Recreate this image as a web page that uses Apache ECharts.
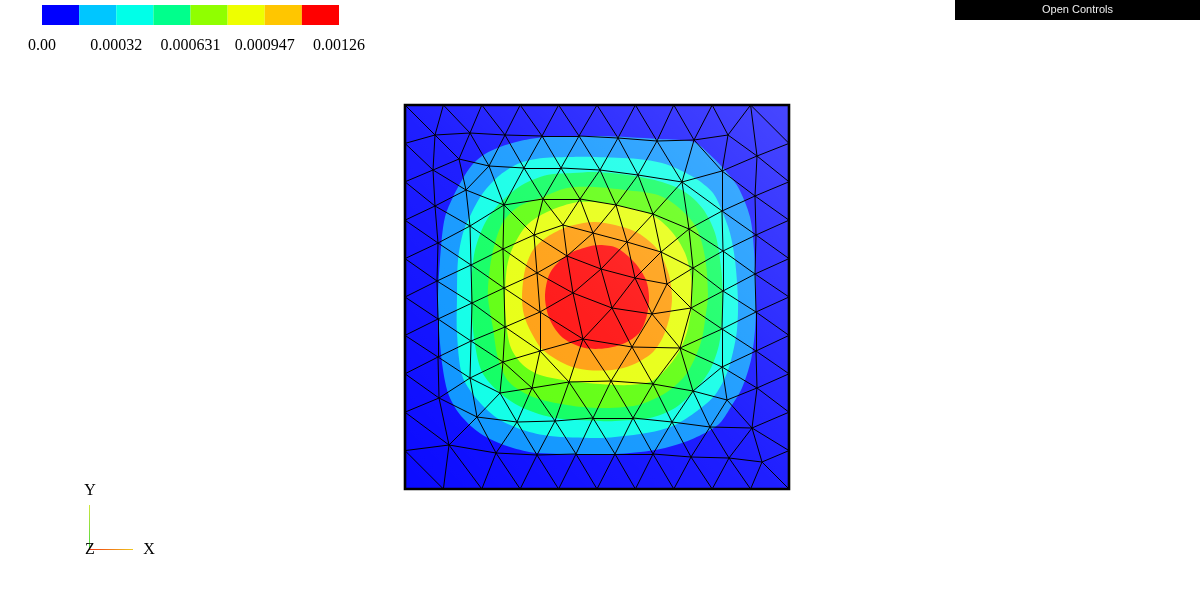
<!DOCTYPE html>
<html>
<head>
<meta charset="utf-8">
<style>
  html, body { margin: 0; padding: 0; background: #fff; }
  #chart { width: 1200px; height: 600px; }
</style>
<script src="https://cdn.jsdelivr.net/npm/echarts@6/dist/echarts.min.js"></script>
</head>
<body>
<div id="chart"></div>
<script>
// colour bar
const barColors = ['#0000ff', '#00c6ff', '#00ffe8', '#00ff8c', '#90ff00', '#eeff00', '#ffc600', '#ff0000'];
const barTickAt = [0, 2, 4, 6, 8];
const barTickLabels = ['0.00', '0.00032', '0.000631', '0.000947', '0.00126'];

// the square domain, mesh units, y runs downwards
const sideStops = [0, 38.4, 76.8, 115.2, 153.6, 192, 230.4, 268.8, 307.2, 345.6, 384];

// inner mesh nodes
const innerNodes = [
  [30, 30], [65, 28], [100, 30], [137, 31], [174, 31], [213, 33], [252, 36], [289, 35], [323, 30],
  [28, 65], [54, 54], [84, 61], [119, 63], [156, 63], [195, 65], [233, 70], [277, 77], [317, 66], [352, 51],
  [30, 101], [61, 85], [99, 100], [138, 94], [175, 94], [211, 100], [248, 109], [284, 124], [317, 106], [350, 91],
  [33, 138], [65, 121], [98, 144], [129, 130], [158, 120], [188, 128], [222, 137], [256, 147], [288, 163], [318, 146], [351, 130],
  [32, 176], [66, 160], [99, 183], [132, 168], [162, 151], [196, 164], [230, 173], [262, 179], [318, 186], [350, 169],
  [33, 214], [67, 198], [100, 222], [135, 207], [168, 188], [207, 203], [247, 209], [286, 203], [317, 224], [351, 207],
  [33, 252], [66, 236], [98, 257], [135, 246], [178, 234], [227, 242], [275, 243], [317, 262], [351, 246],
  [34, 293], [65, 273], [95, 288], [127, 283], [164, 277], [206, 276], [248, 279], [288, 286], [322, 295], [352, 283],
  [72, 312], [112, 317], [150, 316], [188, 313], [228, 313], [267, 317], [305, 322], [347, 323],
  [44, 340], [91, 348], [132, 350], [171, 349], [210, 349], [248, 349], [286, 352], [324, 353], [357, 357]
];

// contour outlines, lowest level first
const contourLightBlue = [
  [33, 192], [36, 142], [40, 112], [48, 92], [57, 75], [67, 60], [80, 49], [95, 42], [115, 36], [142, 32], [195, 31],
  [253, 34], [289, 37], [303, 48], [318, 63], [333, 82], [345, 112], [349, 145], [351, 190],
  [350, 225], [346, 255], [337, 283], [327, 300], [315, 318], [300, 328], [277, 338], [250, 345], [210, 349],
  [132, 348], [105, 342], [83, 333], [67, 322], [53, 307], [43, 288], [37, 258], [34, 223]
];
const contourCyan = [
  [52, 192], [53, 155], [58, 128], [67, 107], [78, 88], [95, 70], [115, 58], [138, 53], [168, 52], [190, 52],
  [233, 54], [257, 58], [277, 66], [293, 75], [308, 88], [317, 106], [325, 128], [330, 155], [333, 195],
  [332, 225], [328, 247], [322, 268], [310, 290], [292, 306], [270, 320], [247, 327], [210, 332], [190, 333],
  [145, 331], [118, 325], [92, 313], [70, 292], [57, 270], [52, 228]
];
const contourGreen = [
  [66, 192], [67, 168], [70, 145], [80, 118], [95, 98], [117, 80], [142, 70], [168, 68], [190, 67],
  [223, 70], [257, 77], [280, 87], [298, 104], [310, 128], [316, 162], [318, 195],
  [317, 215], [314, 240], [305, 265], [290, 285], [270, 303], [245, 313], [210, 316], [195, 316],
  [150, 313], [118, 303], [95, 288], [77, 267], [69, 233]
];
const contourLime = [
  [83, 192], [85, 162], [90, 138], [98, 117], [113, 102], [138, 92], [162, 83], [190, 82],
  [220, 85], [253, 90], [273, 102], [291, 122], [300, 152], [303, 190],
  [301, 208], [296, 237], [282, 268], [262, 287], [233, 300], [195, 303],
  [162, 300], [128, 292], [104, 277], [93, 253], [88, 223]
];
const contourYellow = [
  [100, 192], [102, 162], [108, 142], [122, 120], [142, 107], [168, 98], [190, 97],
  [211, 100], [247, 110], [267, 127], [280, 148], [286, 172], [287, 195],
  [283, 223], [275, 245], [262, 263], [247, 276], [225, 280], [195, 279],
  [165, 276], [135, 270], [118, 260], [106, 243], [101, 217]
];
const contourOrange = [
  [117, 192], [120, 165], [128, 145], [142, 132], [162, 122], [188, 117],
  [210, 120], [233, 128], [253, 145], [264, 170], [267, 192],
  [265, 210], [258, 232], [247, 248], [227, 260], [207, 265], [182, 265],
  [162, 260], [138, 245], [126, 227], [119, 210]
];
const contourRed = [
  [140, 192], [145, 168], [162, 150], [182, 142], [195, 140],
  [212, 143], [230, 158], [241, 175], [244, 192],
  [242, 210], [235, 227], [222, 237], [203, 243], [180, 243],
  [158, 233], [145, 215]
];
const contours = [contourLightBlue, contourCyan, contourGreen, contourLime, contourYellow, contourOrange, contourRed];
const bandColors = ['#0090ff', '#00ffe6', '#00ff58', '#55ff00', '#e6ff00', '#ff9800', '#ff0000'];
const baseColor = '#0000ff';

const boundaryNodes = [];
sideStops.forEach(s => {
  boundaryNodes.push([s, 0], [s, 384]);
  if (s > 0 && s < 384) boundaryNodes.push([0, s], [384, s]);
});
const meshNodes = boundaryNodes.concat(innerNodes);

// the mesh is near Delaunay, so connect the nodes that way (Bowyer-Watson)
function triangulate(pts) {
  const all = pts.concat([[-1e5, -1e5], [1e5, -1e5], [0, 1e5]]);
  const n = pts.length;
  let tris = [[n, n + 1, n + 2]];
  const inCircle = (t, p) => {
    const [a, b, c] = t.map(i => all[i]);
    const ax = a[0] - p[0], ay = a[1] - p[1];
    const bx = b[0] - p[0], by = b[1] - p[1];
    const cx = c[0] - p[0], cy = c[1] - p[1];
    const det = (ax * ax + ay * ay) * (bx * cy - cx * by)
      - (bx * bx + by * by) * (ax * cy - cx * ay)
      + (cx * cx + cy * cy) * (ax * by - bx * ay);
    const orient = (b[0] - a[0]) * (c[1] - a[1]) - (b[1] - a[1]) * (c[0] - a[0]);
    return orient > 0 ? det > 0 : det < 0;
  };
  pts.forEach((p, i) => {
    const bad = [], keep = [];
    tris.forEach(t => (inCircle(t, p) ? bad : keep).push(t));
    const count = {};
    bad.forEach(t => {
      [[t[0], t[1]], [t[1], t[2]], [t[2], t[0]]].forEach(e => {
        const k = Math.min(e[0], e[1]) + '_' + Math.max(e[0], e[1]);
        count[k] = (count[k] || 0) + 1;
      });
    });
    Object.keys(count).forEach(k => {
      if (count[k] === 1) {
        const e = k.split('_').map(Number);
        keep.push([e[0], e[1], i]);
      }
    });
    tris = keep;
  });
  return tris.filter(t => t.every(i => i < n));
}

const edgeKeys = {};
triangulate(meshNodes).forEach(t => {
  [[t[0], t[1]], [t[1], t[2]], [t[2], t[0]]].forEach(e => {
    edgeKeys[Math.min(e[0], e[1]) + '_' + Math.max(e[0], e[1])] = e;
  });
});
const meshEdges = Object.values(edgeKeys).map(e => ({ coords: [meshNodes[e[0]], meshNodes[e[1]]] }));

const square = [[0, 0], [384, 0], [384, 384], [0, 384]];

function polygonItem(api, points, style, smooth) {
  return {
    type: 'polygon',
    shape: { points: points.map(p => api.coord(p)), smooth: smooth || 0 },
    style: style
  };
}

const chart = echarts.init(document.getElementById('chart'), null, { renderer: 'canvas' });
const serif = 'Liberation Serif';

chart.setOption({
  animation: false,
  backgroundColor: '#fff',
  grid: [
    { left: 405, top: 105, width: 384, height: 384 },
    { left: 42, top: 5, width: 297, height: 20 }
  ],
  xAxis: [
    { gridIndex: 0, type: 'value', min: 0, max: 384, show: false },
    {
      gridIndex: 1, type: 'value', min: 0, max: 8, interval: 2,
      axisLine: { show: false }, axisTick: { show: false }, splitLine: { show: false },
      axisLabel: {
        margin: 13, color: '#000', fontFamily: serif, fontSize: 16, showMinLabel: true, showMaxLabel: true,
        formatter: v => barTickLabels[barTickAt.indexOf(v)]
      }
    }
  ],
  yAxis: [
    { gridIndex: 0, type: 'value', min: 0, max: 384, inverse: true, show: false },
    { gridIndex: 1, type: 'value', min: 0, max: 1, show: false }
  ],
  series: [
    {
      // colour bar cells
      type: 'custom', xAxisIndex: 1, yAxisIndex: 1, silent: true, clip: false,
      data: barColors.map((c, i) => [i]),
      renderItem: (params, api) => {
        const i = params.dataIndex;
        return polygonItem(api, [[i, 0], [i + 1, 0], [i + 1, 1], [i, 1]], { fill: barColors[i] });
      }
    },
    {
      // blue base of the domain
      type: 'custom', silent: true, clip: false, z: 1,
      data: [[0]],
      renderItem: (params, api) => polygonItem(api, square, { fill: baseColor })
    },
    {
      // contour bands, nested
      type: 'custom', silent: true, clip: false, z: 2,
      data: contours.map((c, i) => [i]),
      renderItem: (params, api) => polygonItem(api, contours[params.dataIndex], { fill: bandColors[params.dataIndex] }, 0.3)
    },
    {
      // light falling from the upper right
      type: 'custom', silent: true, clip: false, z: 3,
      data: [[0]],
      renderItem: (params, api) => polygonItem(api, square, {
        fill: new echarts.graphic.LinearGradient(0, 1, 1, 0, [
          { offset: 0, color: 'rgba(255,255,255,0.04)' },
          { offset: 0.5, color: 'rgba(255,255,255,0.125)' },
          { offset: 1, color: 'rgba(255,255,255,0.28)' }
        ])
      })
    },
    {
      type: 'lines', coordinateSystem: 'cartesian2d', silent: true, z: 4,
      lineStyle: { color: '#000', width: 1, opacity: 1, curveness: 0 },
      data: meshEdges
    },
    {
      // frame
      type: 'custom', silent: true, clip: false, z: 5,
      data: [[0]],
      renderItem: (params, api) => polygonItem(api, square, { fill: 'none', stroke: '#000', lineWidth: 2.6 })
    }
  ],
  graphic: [
    { type: 'rect', shape: { x: 955, y: 0, width: 245, height: 20 }, style: { fill: '#000' }, silent: true },
    {
      type: 'text', x: 1077.5, y: 9.5, silent: true,
      style: { text: 'Open Controls', fill: '#eeeeee', font: '11px "Liberation Sans"', align: 'center', verticalAlign: 'middle' }
    },
    {
      type: 'line', silent: true,
      shape: { x1: 89.5, y1: 549, x2: 89.5, y2: 505 },
      style: {
        lineWidth: 1,
        stroke: new echarts.graphic.LinearGradient(0, 1, 0, 0, [{ offset: 0, color: '#3fd83f' }, { offset: 1, color: '#d8e83f' }])
      }
    },
    {
      type: 'line', silent: true,
      shape: { x1: 89, y1: 549.5, x2: 133, y2: 549.5 },
      style: {
        lineWidth: 1,
        stroke: new echarts.graphic.LinearGradient(0, 0, 1, 0, [{ offset: 0, color: '#f02a10' }, { offset: 1, color: '#f0d020' }])
      }
    },
    { type: 'text', x: 90, y: 491, silent: true, style: { text: 'Y', fill: '#000', font: '16px "Liberation Serif"', align: 'center', verticalAlign: 'middle' } },
    { type: 'text', x: 90, y: 550, silent: true, style: { text: 'Z', fill: '#000', font: '16px "Liberation Serif"', align: 'center', verticalAlign: 'middle' } },
    { type: 'text', x: 149, y: 550, silent: true, style: { text: 'X', fill: '#000', font: '16px "Liberation Serif"', align: 'center', verticalAlign: 'middle' } }
  ]
});
</script>
</body>
</html>
